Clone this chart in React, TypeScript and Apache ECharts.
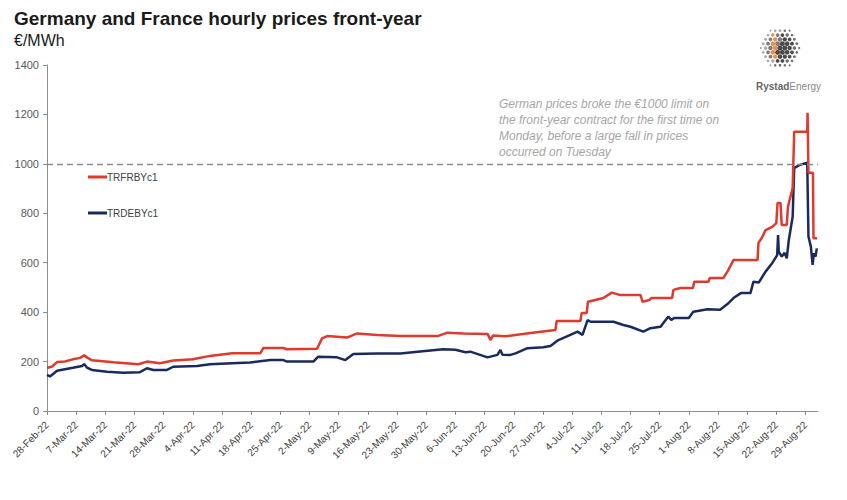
import React, { useEffect, useRef } from "react";
import * as echarts from "echarts";

// Tick labels along the x axis (weekly, Mondays)
const TICK_LABELS = [
  "28-Feb-22", "7-Mar-22", "14-Mar-22", "21-Mar-22", "28-Mar-22", "4-Apr-22",
  "11-Apr-22", "18-Apr-22", "25-Apr-22", "2-May-22", "9-May-22", "16-May-22",
  "23-May-22", "30-May-22", "6-Jun-22", "13-Jun-22", "20-Jun-22", "27-Jun-22",
  "4-Jul-22", "11-Jul-22", "18-Jul-22", "25-Jul-22", "1-Aug-22", "8-Aug-22",
  "15-Aug-22", "22-Aug-22", "29-Aug-22",
];
const MONTHS = ["Jan","Feb","Mar","Apr","May","Jun","Jul","Aug","Sep","Oct","Nov","Dec"];

// France front-year (TRFRBYc1): timestamps "MM-DDTHH" 2022, €/MWh
const FR_TIME = [
  "02-28T00","03-01T05","03-02T10","03-04T07","03-06T05","03-07T22","03-08T22","03-09T14","03-10T19",
  "03-15T22","03-21T22","03-24T00","03-27T02","03-30T07","04-04T00","04-08T02","04-13T10","04-20T05",
  "04-20T22","04-25T17","04-26T14","05-03T19","05-05T00","05-06T05","05-11T00","05-13T10","05-18T05",
  "05-23T19","06-01T17","06-04T02","06-07T22","06-13T17","06-14T10","06-15T00","06-18T00","06-24T00",
  "06-27T00","06-30T00","06-30T07","07-06T00","07-06T07","07-07T12","07-07T19","07-11T12","07-13T12",
  "07-15T14","07-20T10","07-20T22","07-22T12","07-23T00","07-28T00","07-28T07","07-30T00","08-02T00",
  "08-02T07","08-05T17","08-06T00","08-09T07","08-10T12","08-11T17","08-17T12","08-17T17","08-18T12",
  "08-19T10","08-21T00","08-22T00","08-22T07","08-23T00","08-23T07","08-24T12","08-24T19","08-25T22",
  "08-26T07","08-29T10","08-29T12","08-29T17","08-30T19","08-30T22","08-31T19",
];
const FR_VALUE = [
  174, 180, 198, 200, 209, 215, 225, 217, 205,
  197, 189, 200, 193, 204, 209, 223, 234, 234,
  255, 255, 250, 252, 294, 303, 297, 314, 308,
  303, 303, 317, 314, 312, 287, 305, 302, 316,
  322, 328, 364, 364, 397, 397, 442, 457, 479,
  469, 469, 442, 449, 457, 457, 490, 498, 498,
  523, 523, 538, 538, 571, 611, 611, 680, 700,
  732, 745, 760, 842, 842, 753, 753, 827, 902,
  1130, 1130, 1207, 964, 964, 699, 699,
];

// Germany front-year (TRDEBYc1)
const DE_TIME = [
  "02-28T00","02-28T17","03-02T10","03-04T07","03-06T05","03-08T10","03-08T22","03-09T14","03-10T19",
  "03-14T10","03-18T07","03-22T07","03-24T00","03-25T12","03-28T19","03-30T07","04-05T00","04-08T02",
  "04-13T10","04-17T19","04-22T14","04-25T17","04-26T14","05-02T22","05-04T02","05-08T14","05-10T14",
  "05-12T12","05-18T05","05-23T19","05-27T22","06-03T02","06-06T00","06-08T10","06-09T14","06-13T17",
  "06-16T02","06-16T19","06-17T07","06-19T05","06-20T10","06-23T07","06-27T02","06-28T19","06-30T17",
  "07-03T14","07-05T07","07-06T12","07-07T17","07-08T10","07-13T22","07-16T07","07-18T00","07-21T02",
  "07-22T19","07-25T05","07-27T02","07-27T19","07-28T12","08-01T00","08-02T02","08-05T12","08-08T12",
  "08-10T12","08-11T17","08-13T12","08-15T19","08-16T12","08-17T19","08-19T10","08-21T00","08-22T05",
  "08-22T10","08-22T14","08-23T07","08-24T00","08-24T12","08-25T00","08-25T22","08-26T07","08-27T12",
  "08-29T10","08-29T17","08-30T07","08-30T17","08-31T00","08-31T10","08-31T17",
];
const DE_VALUE = [
  146, 140, 163, 169, 175, 182, 190, 176, 166,
  159, 155, 157, 173, 166, 166, 179, 182, 189,
  193, 196, 206, 206, 200, 200, 220, 217, 206,
  231, 233, 233, 240, 250, 248, 238, 240, 217,
  227, 247, 228, 227, 233, 254, 258, 263, 287,
  308, 321, 308, 368, 361, 361, 348, 341, 321,
  335, 341, 382, 368, 376, 376, 402, 412, 410,
  436, 457, 477, 477, 523, 520, 564, 598, 631,
  712, 645, 625, 640, 618, 692, 786, 983, 995,
  1005, 706, 665, 591, 638, 625, 658,
];

const LIMIT = 1000;
const NOTE_LINES = [
  "German prices broke the €1000 limit on",
  "the front-year contract for the first time on",
  "Monday, before a large fall in prices",
  "occurred on Tuesday",
];

const DAY_MS = 864e5;
const START_MS = Date.UTC(2022, 1, 28);
const toDay = (s: string) => (Date.parse(`2022-${s}:00Z`) - START_MS) / DAY_MS;
const labelToDay = (l: string) => {
  const [d, m, y] = l.split("-");
  return (Date.UTC(2000 + Number(y), MONTHS.indexOf(m), Number(d)) - START_MS) / DAY_MS;
};
const dayToLabel = (v: number) => {
  const dt = new Date(START_MS + Math.round(v) * DAY_MS);
  return `${dt.getUTCDate()}-${MONTHS[dt.getUTCMonth()]}-22`;
};

function logoDots() {
  const cx = 780, cy = 48, R = 21, step = 4.8;
  const items: any[] = [];
  for (let gy = -5; gy <= 5; gy++) {
    for (let gx = -5; gx <= 5; gx++) {
      const x = gx * step + (gy % 2 ? step / 2 : 0);
      const y = gy * step * 0.9;
      const d = Math.sqrt(x * x + y * y);
      if (d > R) continue;
      const k = d / R;
      const r = Math.max(0.6, 2.6 * (1 - k * k * 0.7));
      const orange = x > -9.5 && x < -2.5 && y > -14 && y < 10;
      const dark = x + y * 0.3 > -2;
      items.push({
        type: "circle",
        shape: { cx: cx + x, cy: cy + y, r },
        style: {
          fill: orange ? "#e8914a" : dark ? (k < 0.65 ? "#4a4a4a" : "#6e6e6e") : k < 0.65 ? "#7d7d7d" : "#a8a8a8",
        },
        silent: true,
      });
    }
  }
  return items;
}

export default function App() {
  const ref = useRef<HTMLDivElement>(null);
  useEffect(() => {
    if (!ref.current) return;
    const chart = echarts.init(ref.current, undefined, { renderer: "svg" });
    const tickDays = TICK_LABELS.map(labelToDay);
    const fr = FR_TIME.map((t, i) => [toDay(t), FR_VALUE[i]]);
    const de = DE_TIME.map((t, i) => [toDay(t), DE_VALUE[i]]);
    chart.setOption({
      animation: false,
      backgroundColor: "#ffffff",
      title: {
        text: "Germany and France hourly prices front-year",
        subtext: "€/MWh",
        left: 14,
        top: 9,
        itemGap: 4,
        padding: 0,
        textStyle: { fontFamily: "Liberation Sans", fontSize: 19, fontWeight: "bold", color: "#1a1a1a" },
        subtextStyle: { fontFamily: "Liberation Sans", fontSize: 16, color: "#1a1a1a" },
      },
      legend: {
        orient: "vertical",
        left: 83,
        top: 167,
        itemGap: 26,
        itemWidth: 19,
        itemHeight: 3,
        icon: "rect",
        textStyle: { fontFamily: "Liberation Sans", fontSize: 10, color: "#404040", padding: [0, 0, 0, -5] },
        data: ["TRFRBYc1", "TRDEBYc1"],
      },
      grid: { left: 47, right: 29, top: 65, bottom: 89, containLabel: false },
      xAxis: {
        type: "value",
        min: 0,
        max: 185,
        splitLine: { show: false },
        axisLine: { show: true, lineStyle: { color: "#8c8c8c", width: 1 } },
        axisTick: { show: true, length: 4, lineStyle: { color: "#8c8c8c" }, customValues: tickDays },
        axisLabel: {
          customValues: tickDays,
          rotate: 45,
          margin: 12,
          fontFamily: "Liberation Sans",
          fontSize: 10,
          color: "#404040",
          formatter: (v: number) => dayToLabel(v),
        },
      },
      yAxis: {
        type: "value",
        min: 0,
        max: 1400,
        interval: 200,
        splitLine: { show: false },
        axisLine: { show: true, lineStyle: { color: "#8c8c8c", width: 1 } },
        axisTick: { show: true, length: 4, lineStyle: { color: "#8c8c8c" } },
        axisLabel: {
          fontFamily: "Liberation Sans",
          fontSize: 11,
          color: "#595959",
          margin: 8,
          formatter: (v: number) => String(v),
        },
      },
      series: [
        {
          name: "TRDEBYc1",
          type: "line",
          data: de,
          showSymbol: false,
          symbol: "none",
          lineStyle: { color: "#1b2a5e", width: 2.5 },
          itemStyle: { color: "#1b2a5e" },
        },
        {
          name: "TRFRBYc1",
          type: "line",
          data: fr,
          showSymbol: false,
          symbol: "none",
          lineStyle: { color: "#e0392d", width: 2.5 },
          itemStyle: { color: "#e0392d" },
          markLine: {
            silent: true,
            symbol: ["none", "none"],
            label: { show: false },
            lineStyle: { color: "#8c8c8c", type: [6, 4], width: 1.3 },
            data: [{ yAxis: LIMIT }],
          },
        },
      ],
      graphic: [
        {
          type: "text",
          left: 499,
          top: 96,
          silent: true,
          style: {
            text: NOTE_LINES.join("\n"),
            fontFamily: "Liberation Sans",
            fontStyle: "italic",
            fontSize: 12,
            lineHeight: 16,
            fill: "#a6a6a6",
          },
        },
        {
          type: "text",
          left: 756,
          top: 81,
          silent: true,
          style: {
            text: "{a|Rystad}{b|Energy}",
            rich: {
              a: { fontFamily: "Liberation Sans", fontWeight: "bold", fontSize: 10, fill: "#666666", color: "#666666" },
              b: { fontFamily: "Liberation Sans", fontSize: 10, fill: "#888888", color: "#888888" },
            },
          },
        },
        { type: "group", children: logoDots() },
      ],
    });
    return () => chart.dispose();
  }, []);
  return (
    <div
      ref={ref}
      style={{ position: "fixed", left: 0, top: 0, width: 847, height: 500 }}
    />
  );
}
